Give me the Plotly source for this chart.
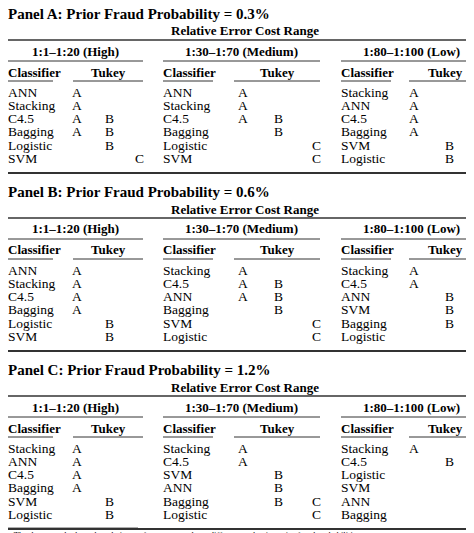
import plotly.graph_objects as go

W, H = 474, 533

panel_titles = ["Panel A: Prior Fraud Probability = 0.3%",
                "Panel B: Prior Fraud Probability = 0.6%",
                "Panel C: Prior Fraud Probability = 1.2%"]
range_labels = ["1:1\u20131:20 (High)", "1:30\u20131:70 (Medium)", "1:80\u20131:100 (Low)"]

# classifiers and Tukey groupings per panel, per cost range
panel_a_names = [["ANN", "Stacking", "C4.5", "Bagging", "Logistic", "SVM"],
                 ["ANN", "Stacking", "C4.5", "Bagging", "Logistic", "SVM"],
                 ["Stacking", "ANN", "C4.5", "Bagging", "SVM", "Logistic"]]
panel_a_tukey = [["A", "A", "AB", "AB", "B", "C"],
                 ["A", "A", "AB", "B", "C", "C"],
                 ["A", "A", "A", "A", "B", "B"]]
panel_b_names = [["ANN", "Stacking", "C4.5", "Bagging", "Logistic", "SVM"],
                 ["Stacking", "C4.5", "ANN", "Bagging", "SVM", "Logistic"],
                 ["Stacking", "C4.5", "ANN", "SVM", "Bagging", "Logistic"]]
panel_b_tukey = [["A", "A", "A", "A", "B", "B"],
                 ["A", "AB", "AB", "B", "C", "C"],
                 ["A", "A", "B", "B", "BC", "C"]]
panel_c_names = [["Stacking", "ANN", "C4.5", "Bagging", "SVM", "Logistic"],
                 ["Stacking", "C4.5", "SVM", "ANN", "Bagging", "Logistic"],
                 ["Stacking", "C4.5", "Logistic", "SVM", "ANN", "Bagging"]]
panel_c_tukey = [["A", "A", "A", "A", "B", "B"],
                 ["A", "A", "B", "B", "BC", "C"],
                 ["A", "B", "C", "C", "C", "C"]]

footnote = "a The three panels show the relative performance results at different evaluation prior fraud probabilities."

panels = [(panel_a_names, panel_a_tukey), (panel_b_names, panel_b_tukey), (panel_c_names, panel_c_tukey)]

FONT = "Liberation Serif"
name_x = [0, 155, 333]
letter_x = [[69, 101, 131], [235, 270, 308], [406, 441, 468]]
group_span = [(0, 135), (155, 312), (333, 474)]
cls_line = [(0, 45), (155, 205), (333, 383)]
tk_line = [(65, 135), (226, 312), (401, 474)]

fig = go.Figure()
ann = []
shapes = []


def px(x):
    return x / W


def py(y):
    return 1 - y / H


def text(x, y, s, anchor="left", size=13.5, bold=False):
    if bold:
        s = "<b>" + s + "</b>"
    ann.append(dict(x=px(x), y=py(y), xref="paper", yref="paper", text=s, showarrow=False,
                    xanchor=anchor, yanchor="middle", xshift=-2 if anchor == "left" else 0,
                    font=dict(family=FONT, size=size, color="black")))


def hline(x0, x1, y, w=1):
    shapes.append(dict(type="line", xref="paper", yref="paper", x0=px(x0), x1=px(x1),
                       y0=py(y), y1=py(y), line=dict(color="#333", width=w)))


for p, (names, tukey) in enumerate(panels):
    off = p * 178
    text(0, 6 + off, panel_titles[p], size=15, bold=True)
    text(237, 23 + off, "Relative Error Cost Range", anchor="center", size=13, bold=True)
    hline(0, 474, 32 + off, 1.5)
    for g in range(3):
        a, b = group_span[g]
        text((a + b) / 2, 43 + off, range_labels[g], anchor="center", size=13, bold=True)
        hline(a, b, 53 + off)
        text(cls_line[g][0], 64 + off, "Classifier", size=13, bold=True)
        text((tk_line[g][0] + tk_line[g][1]) / 2, 64 + off, "Tukey", anchor="center", size=13, bold=True)
        hline(*cls_line[g], 73 + off)
        hline(*tk_line[g], 73 + off)
        for r, (nm, t) in enumerate(zip(names[g], tukey[g])):
            y = 84 + r * 13.3 + off
            text(name_x[g], y, nm)
            for L in t:
                text(letter_x[g]["ABC".index(L)], y, L, anchor="center")
    hline(0, 474, 165 + off, 2)

hline(0, 130, 520, 0.8)
text(0, 527, footnote, size=8.5)

fig.update_layout(width=W, height=H, margin=dict(l=0, r=0, t=0, b=0),
                  paper_bgcolor="white", plot_bgcolor="white",
                  xaxis=dict(visible=False), yaxis=dict(visible=False),
                  annotations=ann, shapes=shapes, showlegend=False)
fig.write_html("out.html")
